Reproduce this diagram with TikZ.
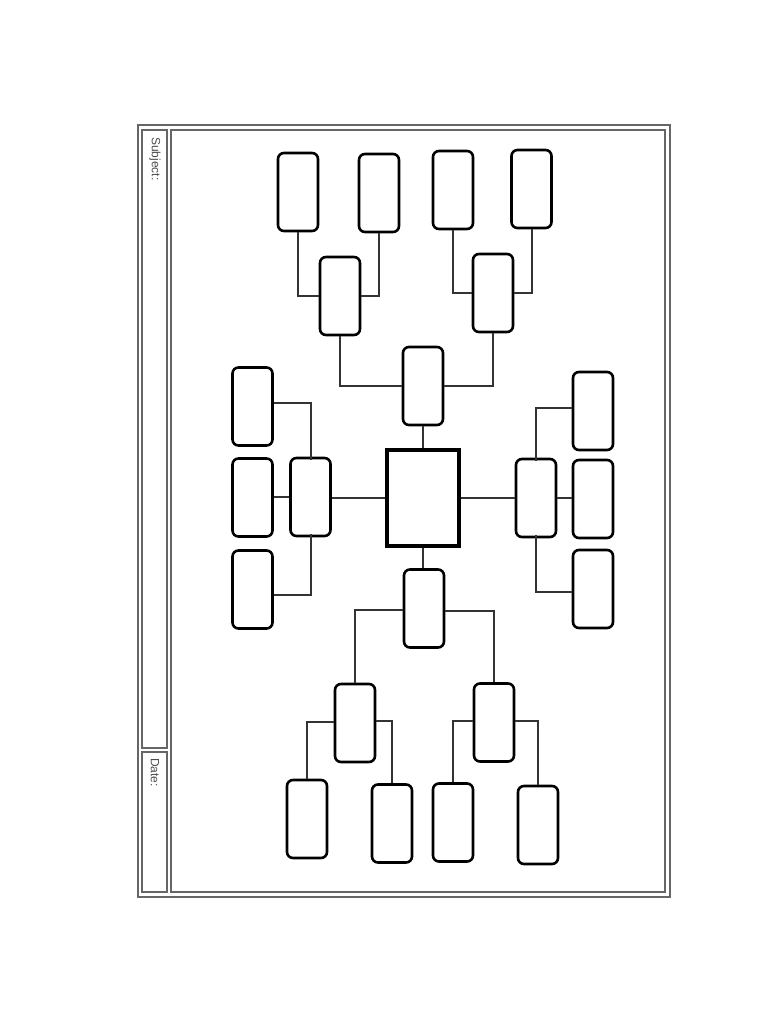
\documentclass[tikz,border=0pt]{standalone}
\usepackage{fontspec}
\setmainfont{Liberation Sans}
\begin{document}
\begin{tikzpicture}[x=1pt,y=-1pt,
  rbox/.style={draw=black, line width=2.6pt, rounded corners=6pt, fill=white,
    minimum width=40pt, minimum height=78pt, inner sep=0pt},
  cbox/.style={draw=black, line width=3.4pt, fill=white,
    minimum width=72pt, minimum height=96pt, inner sep=0pt},
  conn/.style={draw=black!80, line width=2pt},
  frameline/.style={draw=black!60, line width=2pt},
  lbl/.style={text=black!70, font=\fontsize{12}{14}\selectfont, rotate=-90, inner sep=0pt}
]
\useasboundingbox (0,0) rectangle (768,1024);
% frame
\draw[frameline, line width=2.4pt] (138,125) rectangle (670,897);
\draw[frameline] (142,130) rectangle (167,748);
\draw[frameline] (142,752) rectangle (167,892);
\draw[frameline] (171,130) rectangle (665,892);
\node[lbl, anchor=west] (subj) at (155,137) {Subject:};
\node[lbl, anchor=west] (date) at (155,758) {Date:};
% center
\node[cbox] (C) at (423,498) {};
% top branch
\node[rbox] (T) at (423,386) {};
\node[rbox] (TL) at (340,296) {};
\node[rbox] (TR) at (493,293) {};
\node[rbox] (TLa) at (298,192) {};
\node[rbox] (TLb) at (379,193) {};
\node[rbox] (TRa) at (453,190) {};
\node[rbox] (TRb) at (531.5,189) {};
% left branch
\node[rbox] (L) at (310.5,497) {};
\node[rbox] (La) at (252.5,406.5) {};
\node[rbox] (Lb) at (252.5,497.5) {};
\node[rbox] (Lc) at (252.5,589.5) {};
% right branch
\node[rbox] (R) at (536,498) {};
\node[rbox] (Ra) at (593,411) {};
\node[rbox] (Rb) at (593,499) {};
\node[rbox] (Rc) at (593,589) {};
% bottom branch
\node[rbox] (B) at (424,608.5) {};
\node[rbox] (BL) at (355,723) {};
\node[rbox] (BR) at (494,722.5) {};
\node[rbox] (BLa) at (307,819) {};
\node[rbox] (BLb) at (392,823.5) {};
\node[rbox] (BRa) at (453,822.5) {};
\node[rbox] (BRb) at (538,825) {};
% connectors
\draw[conn] (C.north) -- (T.south);
\draw[conn] (T.west) -| (TL.south);
\draw[conn] (T.east) -| (TR.south);
\draw[conn] (TL.west) -| (TLa.south);
\draw[conn] (TL.east) -| (TLb.south);
\draw[conn] (TR.west) -| (TRa.south);
\draw[conn] (TR.east) -| (TRb.south);
\draw[conn] (C.west) -- (C.west -| L.east);
\draw[conn] ([yshift=-3pt]L.north) |- ([yshift=3.5pt]La.east);
\draw[conn] (L.west) -- (L.west -| Lb.east);
\draw[conn] ([yshift=3pt]L.south) |- ([yshift=-5.5pt]Lc.east);
\draw[conn] (C.east) -- (C.east -| R.west);
\draw[conn] ([yshift=-3pt]R.north) |- ([yshift=3pt]Ra.west);
\draw[conn] (R.east) -- (R.east -| Rb.west);
\draw[conn] ([yshift=3pt]R.south) |- ([yshift=-3pt]Rc.west);
\draw[conn] (C.south) -- (C.south |- B.north);
\draw[conn] ([yshift=-1.5pt]B.west) -| (BL.north);
\draw[conn] ([yshift=-2.5pt]B.east) -| (BR.north);
\draw[conn] ([yshift=1pt]BL.west) -| (BLa.north);
\draw[conn] ([yshift=2pt]BL.east) -| (BLb.north);
\draw[conn] ([yshift=1.5pt]BR.west) -| (BRa.north);
\draw[conn] ([yshift=1.5pt]BR.east) -| (BRb.north);
\end{tikzpicture}
\end{document}
